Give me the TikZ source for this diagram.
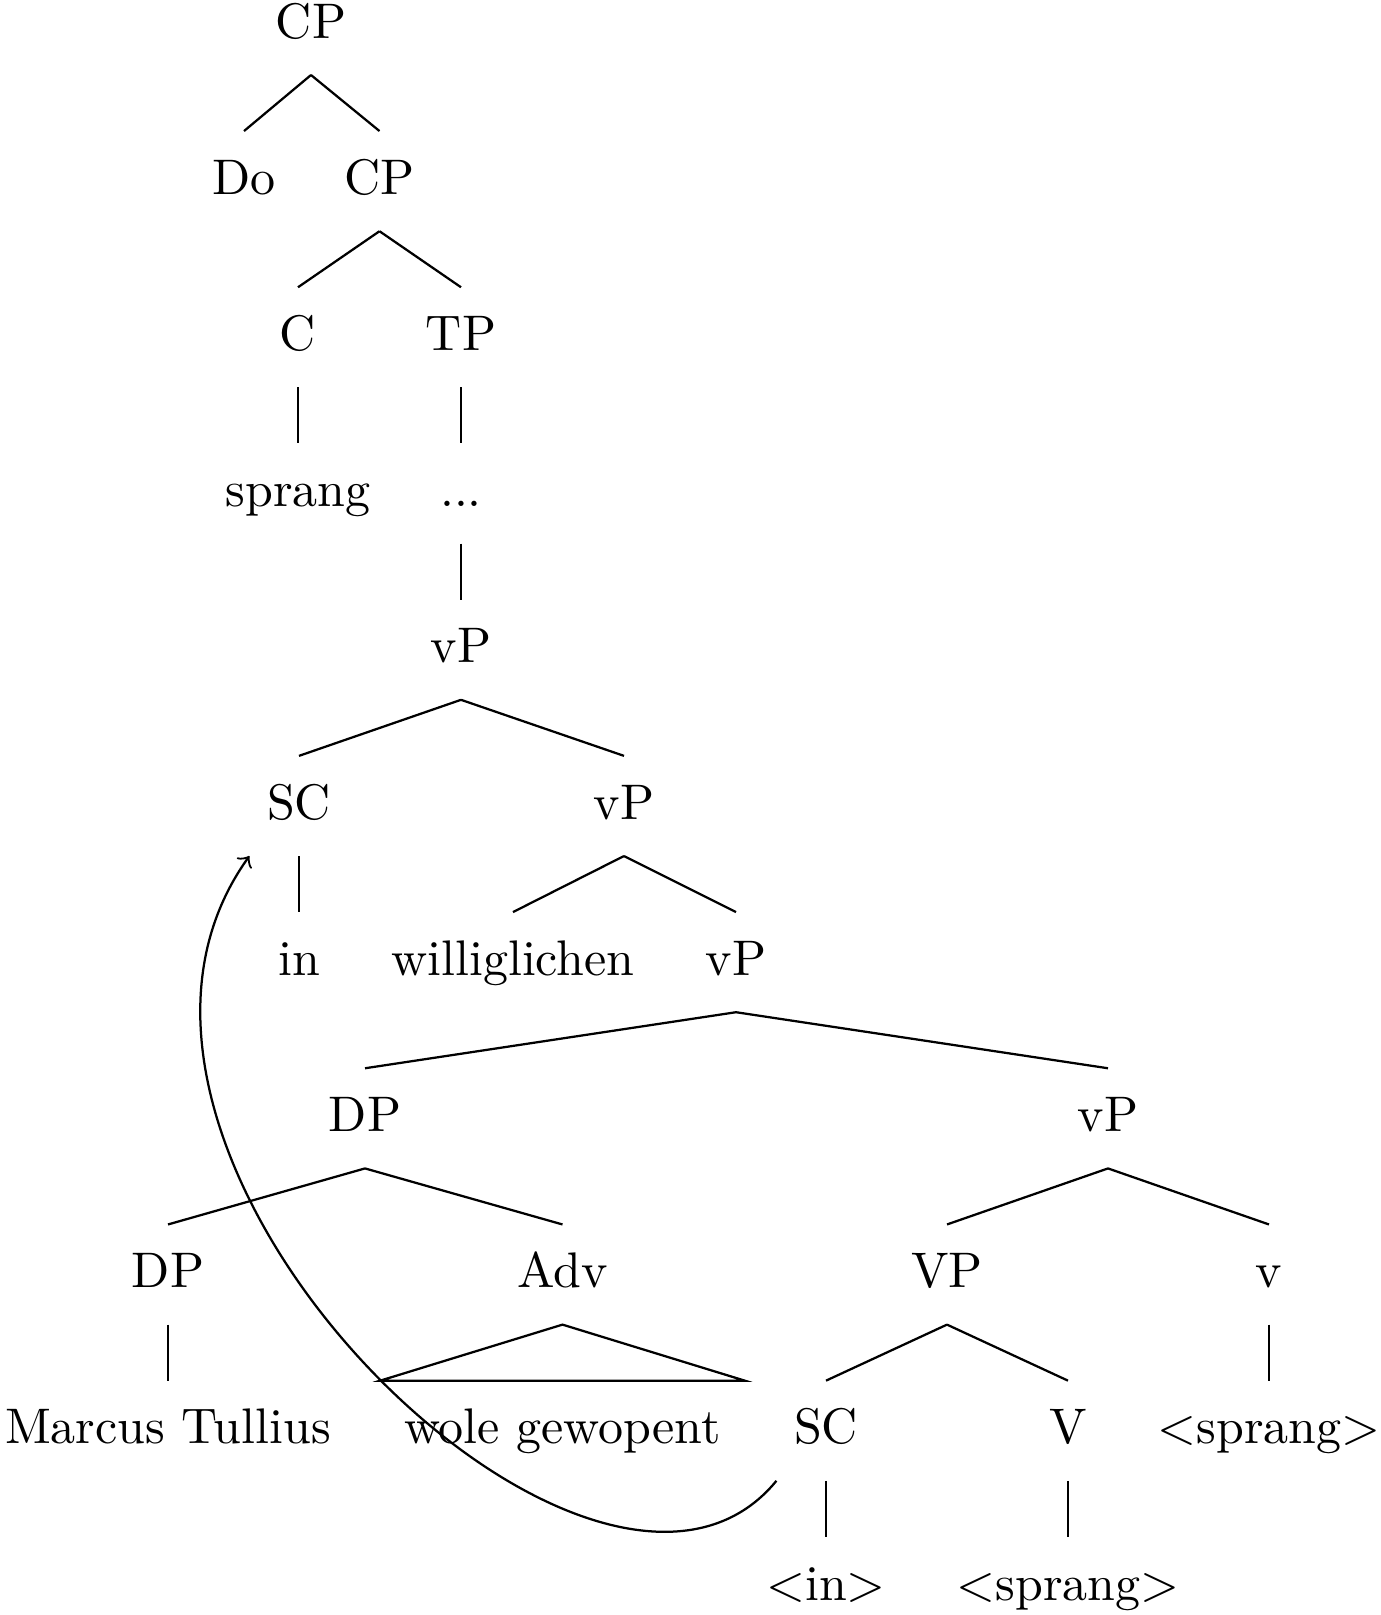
\documentclass[tikz,border=0pt]{standalone}
\begin{document}
\begin{tikzpicture}[x=0.2pt,y=-0.2pt,
  lab/.style={anchor=base, text height=6.83pt, text depth=1.6pt, inner ysep=5.6pt, inner xsep=3.33pt},
  edge/.style={line width=0.45pt},
  mov/.style={line width=0.45pt,->}]
\useasboundingbox (0,0) rectangle (1381,1615);
\node[lab] (cp1) at (311,38) {CP};
\node[lab] (do) at (244,194.2) {Do};
\node[lab] (cp2) at (379.5,194.2) {CP};
\node[lab] (c) at (298,350.4) {C};
\node[lab] (tp) at (461,350.4) {TP};
\node[lab] (sprang) at (298,506.6) {sprang};
\node[lab] (dots) at (461,506.6) {...};
\node[lab] (vp1) at (461,662.8) {vP};
\node[lab] (sc1) at (299,819) {SC};
\node[lab] (vp2) at (624,819) {vP};
\node[lab] (in) at (299,975.2) {in};
\node[lab] (will) at (513,975.2) {williglichen};
\node[lab] (vp3) at (736,975.2) {vP};
\node[lab] (dp1) at (365,1131.4) {DP};
\node[lab] (vp4) at (1108,1131.4) {vP};
\node[lab] (dp2) at (168,1287.6) {DP};
\node[lab] (adv) at (562.5,1287.6) {Adv};
\node[lab] (vpV) at (947,1287.6) {VP};
\node[lab] (v) at (1269,1287.6) {v};
\node[lab] (marcus) at (168,1443.8) {Marcus Tullius};
\node[lab,inner xsep=4.6pt] (wole) at (562.5,1443.8) {wole gewopent};
\node[lab] (sc2) at (826,1443.8) {SC};
\node[lab] (V) at (1068,1443.8) {V};
\node[lab] (vsprang) at (1269,1443.8) {$<$sprang$>$};
\node[lab] (intr) at (826,1600) {$<$in$>$};
\node[lab] (Vsprang) at (1068,1600) {$<$sprang$>$};
\draw[edge] (cp1.south) -- (do.north);
\draw[edge] (cp1.south) -- (cp2.north);
\draw[edge] (cp2.south) -- (c.north);
\draw[edge] (cp2.south) -- (tp.north);
\draw[edge] (c.south) -- (sprang.north);
\draw[edge] (tp.south) -- (dots.north);
\draw[edge] (dots.south) -- (vp1.north);
\draw[edge] (vp1.south) -- (sc1.north);
\draw[edge] (vp1.south) -- (vp2.north);
\draw[edge] (sc1.south) -- (in.north);
\draw[edge] (vp2.south) -- (will.north);
\draw[edge] (vp2.south) -- (vp3.north);
\draw[edge] (vp3.south) -- (dp1.north);
\draw[edge] (vp3.south) -- (vp4.north);
\draw[edge] (dp1.south) -- (dp2.north);
\draw[edge] (dp1.south) -- (adv.north);
\draw[edge] (vp4.south) -- (vpV.north);
\draw[edge] (vp4.south) -- (v.north);
\draw[edge] (dp2.south) -- (marcus.north);
\draw[edge] (adv.south) -- (wole.north west) -- (wole.north east) -- cycle;
\draw[edge] (vpV.south) -- (sc2.north);
\draw[edge] (vpV.south) -- (V.north);
\draw[edge] (v.south) -- (vsprang.north);
\draw[edge] (sc2.south) -- (intr.north);
\draw[edge] (V.south) -- (Vsprang.north);
\draw[mov] (sc2.south west) .. controls +(-180,220) and +(-215,300) .. (sc1.south west);
\end{tikzpicture}
\end{document}
